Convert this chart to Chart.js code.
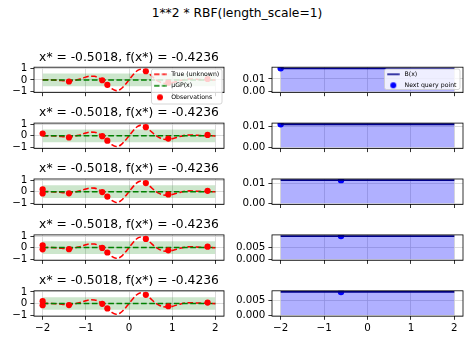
<!DOCTYPE html>
<html><head><meta charset="utf-8">
<script src="https://cdn.jsdelivr.net/npm/chart.js@4.4.1/dist/chart.umd.min.js"></script>
<style>
html,body{margin:0;padding:0;background:#fff;}
#wrap{position:relative;width:474px;height:355px;overflow:hidden;background:#fff;}
#wrap canvas{position:absolute;left:0;top:0;}
#sup{position:absolute;left:0;width:474px;top:4.5px;text-align:center;font-family:'DejaVu Sans';font-size:12.3px;color:#000;line-height:16px;}
</style></head><body>
<div id="wrap"><div id="sup">1**2 * RBF(length_scale=1)</div></div>
<script>
// ---------- data ----------
const gridX = [-2.0,-1.9,-1.8,-1.7,-1.6,-1.5,-1.4,-1.3,-1.2,-1.1,-1.0,-0.9,-0.8,-0.7,-0.6,-0.5,-0.4,-0.3,-0.2,-0.1,0.0,0.1,0.2,0.3,0.4,0.5,0.6,0.7,0.8,0.9,1.0,1.1,1.2,1.3,1.4,1.5,1.6,1.7,1.8,1.9,2.0];
const trueY = [0.01,0.01,0.0,-0.02,-0.05,-0.08,-0.12,-0.07,0.02,0.12,0.24,0.32,0.31,0.17,-0.08,-0.42,-0.76,-0.93,-0.82,-0.46,0.0,0.46,0.82,0.93,0.76,0.42,0.08,-0.15,-0.29,-0.32,-0.25,-0.14,-0.04,0.04,0.07,0.06,0.04,0.02,0.01,0.0,-0.01];
const meanX = [-2.0, 2.0];
const meanY = [0.0, 0.0];
const bandX = [-2.0, 2.0];
const bandHi = [0.55, 0.55];
const bandLo = [-0.55, -0.55];
const obsX = [-1.39, -0.62, -0.5018, 0.39, 0.91, 1.82, -2.0, -2.0];
const obsY = [-0.14, -0.03, -0.4236, 0.75, -0.24, 0.08, 0.2, -0.15];
const obsCount = [6, 7, 8, 8, 8];
const bX = [-2.0, 2.0];
const bVals = [0.0184, 0.0112, 0.0117, 0.0098, 0.0079];
const nextQX = [-2.0, -2.0, -0.61, -0.61, -0.61];
const rowTitles = ['x* = -0.5018, f(x*) = -0.4236','x* = -0.5018, f(x*) = -0.4236','x* = -0.5018, f(x*) = -0.4236','x* = -0.5018, f(x*) = -0.4236','x* = -0.5018, f(x*) = -0.4236'];
const xTickVals = [-2, -1, 0, 1, 2];
const xTickLabels = ['\u22122', '\u22121', '0', '1', '2'];
const leftYTickVals = [-1, 0, 1];
const leftYTickLabels = ['\u22121', '0', '1'];
const rightYTickVals = [[0, 0.01], [0, 0.01], [0, 0.01], [0, 0.005], [0, 0.005]];
const rightYTickLabels = [['0.00','0.01'], ['0.00','0.01'], ['0.00','0.01'], ['0.000','0.005'], ['0.000','0.005']];
const leftLegendLabels = ['True (unknown)', '\u03bcGP(x)', 'Observations'];
const rightLegendLabels = ['B(x)', 'Next query point'];

// ---------- layout ----------
const W = 474, H = 355;
const rowTop = 67.2, rowStep = 55.9, rowH = 25.4;
const LA = {left: 34, right: 224}, RA = {left: 272, right: 463};
const FONT = 'DejaVu Sans';
const tickFont = {family: FONT, size: 10.3};
const GRID = '#d2d2d2';
const TITLE_LH = 12.3 * 1.2, TITLE_PB = 2.5, TITLE_H = TITLE_LH + TITLE_PB;
const XAX_H = 22;
const DASH = [5.7, 2.5];
const LW = 1.54;

Chart.defaults.font.family = FONT;
Chart.defaults.color = '#000';

function makeCanvas() {
  const c = document.createElement('canvas');
  c.width = W; c.height = H;
  c.style.width = W + 'px'; c.style.height = H + 'px';
  document.getElementById('wrap').appendChild(c);
  return c;
}
function handleLine(color, dashed, lw) {
  const c = document.createElement('canvas'); c.width = 13; c.height = 4;
  const x = c.getContext('2d');
  x.strokeStyle = color; x.lineWidth = lw;
  if (dashed) x.setLineDash(DASH);
  x.beginPath(); x.moveTo(0.3, 2); x.lineTo(12.7, 2); x.stroke();
  return c;
}
function handleDot(color) {
  const c = document.createElement('canvas'); c.width = 8; c.height = 8;
  const x = c.getContext('2d');
  x.fillStyle = color; x.beginPath(); x.arc(4, 4, 3.0, 0, Math.PI * 2); x.fill();
  return c;
}

const mplPlugin = {
  id: 'mpl',
  afterLayout(chart, args, o) {
    const lg = chart.legend;
    if (!o || !o.legend || !lg) return;
    lg.update(300, 100, {left: 0, top: 0, right: 0, bottom: 0});
    const w = lg.width;
    lg.left = o.legend.ix; lg.right = o.legend.ix + w;
    lg.top = o.legend.iy; lg.bottom = o.legend.iy + 100; lg.height = 100;
    if (!lg._mplOrig) { lg._mplOrig = lg.draw; lg.draw = function () {}; }
  },
  afterDatasetsDraw(chart, args, o) {
    const ctx = chart.ctx, a = chart.chartArea;
    ctx.save();
    ctx.strokeStyle = '#000'; ctx.lineWidth = 0.8;
    ctx.strokeRect(a.left, a.top, a.right - a.left, a.bottom - a.top);
    ctx.restore();
    if (o && o.legend && chart.legend && chart.legend._mplOrig) {
      const b = o.legend.box;
      ctx.save();
      ctx.beginPath();
      if (ctx.roundRect) ctx.roundRect(b.x, b.y, b.w, b.h, 2); else ctx.rect(b.x, b.y, b.w, b.h);
      ctx.fillStyle = 'rgba(255,255,255,0.8)'; ctx.fill();
      ctx.strokeStyle = '#cccccc'; ctx.lineWidth = 0.8; ctx.stroke();
      ctx.restore();
      chart.legend._mplOrig.call(chart.legend);
    }
  }
};

function xScale(showLabels) {
  return {
    type: 'linear', min: -2.2, max: 2.2, bounds: 'data',
    afterBuildTicks: s => { s.ticks = xTickVals.map(v => ({value: v})); },
    afterFit: s => { s.height = XAX_H; },
    grid: {color: GRID, lineWidth: 0.8, drawTicks: true, tickLength: 3.6, tickWidth: 0.8, tickColor: '#000'},
    border: {display: false},
    ticks: {display: showLabels, autoSkip: false, maxRotation: 0, minRotation: 0, padding: 2.5, color: '#000', font: tickFont,
      callback: v => xTickLabels[xTickVals.indexOf(v)]}
  };
}
function yScale(min, max, vals, labels, width) {
  return {
    type: 'linear', min: min, max: max, bounds: 'data',
    afterBuildTicks: s => { s.ticks = vals.map(v => ({value: v})); },
    afterFit: s => { s.width = width; },
    grid: {color: GRID, lineWidth: 0.8, drawTicks: true, tickLength: 3.6, tickWidth: 0.8, tickColor: '#000'},
    border: {display: false},
    ticks: {autoSkip: false, padding: 3, color: '#000', font: tickFont,
      callback: v => labels[vals.indexOf(v)]}
  };
}
function legendOpts(items, padding, boxW) {
  return {
    display: true, position: 'chartArea', align: 'start',
    labels: {
      usePointStyle: true, pointStyleWidth: boxW, boxHeight: 6.2, padding: padding,
      color: '#000', font: {family: FONT, size: 6.2},
      generateLabels: () => items
    }
  };
}

const leftItems = [
  {text: leftLegendLabels[0], pointStyle: handleLine('#ff0000', true, LW), fillStyle: '#ff0000', strokeStyle: '#ff0000', lineWidth: 0, hidden: false, fontColor: '#000', textAlign: 'left', datasetIndex: 2},
  {text: leftLegendLabels[1], pointStyle: handleLine('#008000', true, LW), fillStyle: '#008000', strokeStyle: '#008000', lineWidth: 0, hidden: false, fontColor: '#000', textAlign: 'left', datasetIndex: 1},
  {text: leftLegendLabels[2], pointStyle: handleDot('#ff0000'), fillStyle: '#ff0000', strokeStyle: '#ff0000', lineWidth: 0, hidden: false, fontColor: '#000', textAlign: 'left', datasetIndex: 0}
];
const rightItems = [
  {text: rightLegendLabels[0], pointStyle: handleLine('#00008b', false, LW), fillStyle: '#00008b', strokeStyle: '#00008b', lineWidth: 0, hidden: false, fontColor: '#000', textAlign: 'left', datasetIndex: 0},
  {text: rightLegendLabels[1], pointStyle: handleDot('#0000ff'), fillStyle: '#0000ff', strokeStyle: '#0000ff', lineWidth: 0, hidden: false, fontColor: '#000', textAlign: 'left', datasetIndex: 1}
];

for (let r = 0; r < 5; r++) {
  const top = rowTop + r * rowStep, bottom = top + rowH;
  const showX = r === 4;
  const nObs = obsCount[r];
  const obsPts = obsX.slice(0, nObs).map((x, i) => ({x: x, y: obsY[i]}));

  // ---- left: GP plot ----
  new Chart(makeCanvas(), {
    type: 'line',
    data: {datasets: [
      {label: 'Observations', data: obsPts, showLine: false, pointRadius: 3.1, pointBackgroundColor: '#ff0000', pointBorderWidth: 0, order: 0},
      {label: 'mean', data: meanX.map((x, i) => ({x: x, y: meanY[i]})), borderColor: '#008000', borderWidth: LW, borderDash: DASH, pointRadius: 0, fill: false, order: 1},
      {label: 'True (unknown)', data: gridX.map((x, i) => ({x: x, y: trueY[i]})), borderColor: '#ff0000', borderWidth: LW, borderDash: DASH, pointRadius: 0, fill: false, cubicInterpolationMode: 'monotone', order: 2},
      {label: 'hi', data: bandX.map((x, i) => ({x: x, y: bandHi[i]})), borderWidth: 0, borderColor: 'rgba(0,0,0,0)', backgroundColor: 'rgba(0,128,0,0.2)', pointRadius: 0, fill: '+1', order: 3},
      {label: 'lo', data: bandX.map((x, i) => ({x: x, y: bandLo[i]})), borderWidth: 0, borderColor: 'rgba(0,0,0,0)', pointRadius: 0, fill: false, order: 4}
    ]},
    options: {
      responsive: false, animation: false, devicePixelRatio: 1, events: [],
      layout: {padding: {left: LA.left - 34, right: W - LA.right, top: top - TITLE_H, bottom: H - bottom - XAX_H}},
      scales: {x: xScale(showX), y: yScale(-1.1, 1.1, leftYTickVals, leftYTickLabels, 34)},
      plugins: {
        legend: r === 0 ? legendOpts(leftItems, 5.3, 16.2) : {display: false},
        tooltip: {enabled: false},
        title: {display: true, text: rowTitles[r], fullSize: false, align: 'center', color: '#000',
          font: {family: FONT, size: 12.3, weight: 'normal', lineHeight: 1.2}, padding: {top: 0, bottom: TITLE_PB}},
        mpl: r === 0 ? {legend: {ix: 151.9 - 5.3, iy: 74.3 - 5.3 - 3.1, box: {x: 151.5, y: 69, w: 70.5, h: 35}}} : {}
      }
    },
    plugins: [mplPlugin]
  });

  // ---- right: acquisition plot ----
  const B = bVals[r];
  new Chart(makeCanvas(), {
    type: 'line',
    data: {datasets: [
      {label: 'B(x)', data: bX.map(x => ({x: x, y: B})), borderColor: '#00008b', borderWidth: 1.8, backgroundColor: 'rgba(0,0,255,0.31)', pointRadius: 0, fill: 'origin', order: 0},
      {label: 'Next query point', data: [{x: nextQX[r], y: B}], showLine: false, pointRadius: 3.2, pointBackgroundColor: '#0000ff', pointBorderWidth: 0, clip: 0, order: 1}
    ]},
    options: {
      responsive: false, animation: false, devicePixelRatio: 1, events: [],
      layout: {padding: {left: RA.left - 40, right: W - RA.right, top: top, bottom: H - bottom - XAX_H}},
      scales: {x: xScale(showX), y: yScale(-0.05 * B, 1.05 * B, rightYTickVals[r], rightYTickLabels[r], 40)},
      plugins: {
        legend: r === 0 ? legendOpts(rightItems, 4.8, 16.2) : {display: false},
        tooltip: {enabled: false},
        title: {display: false},
        mpl: r === 0 ? {legend: {ix: 385.2 - 4.8, iy: 74.3 - 4.8 - 3.1, box: {x: 384.5, y: 69, w: 75.5, h: 20.5}}} : {}
      }
    },
    plugins: [mplPlugin]
  });
}
</script>
</body></html>
